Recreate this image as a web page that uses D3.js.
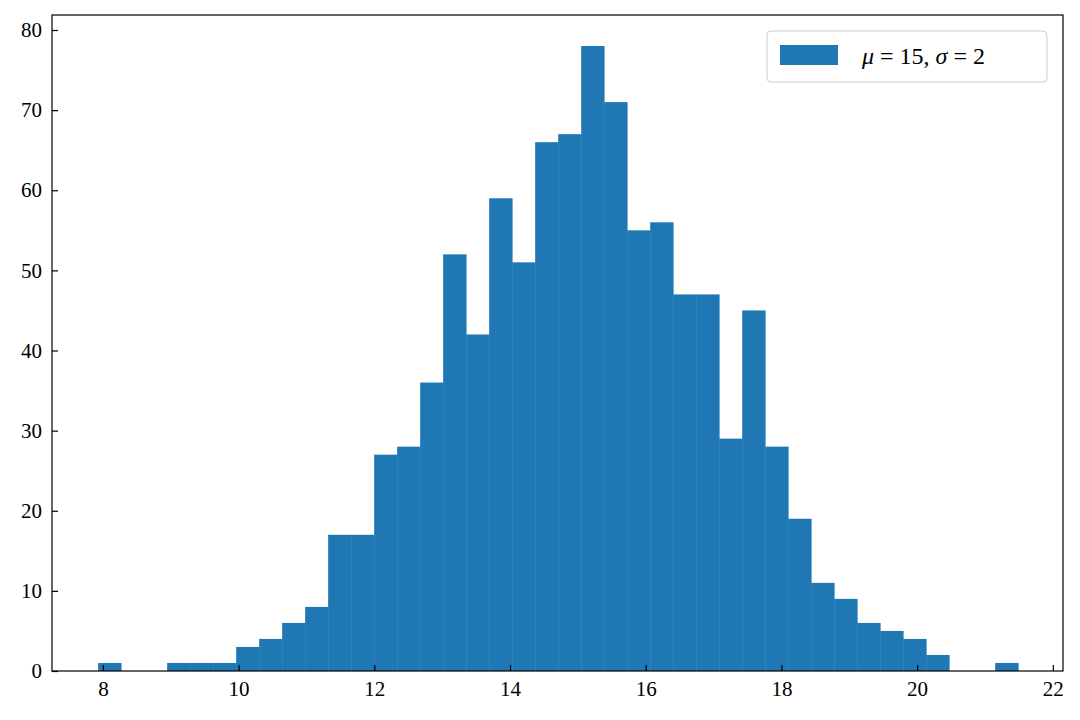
<!DOCTYPE html>
<html><head><meta charset="utf-8">
<script src="https://cdn.jsdelivr.net/npm/d3@7"></script>
<style>body{margin:0;background:#fff}</style></head>
<body><svg id="c" width="1080" height="720"></svg>
<script>
const binStart = 7.93;
const binWidth = 0.339;
const counts = [1,0,0,1,1,1,3,4,6,8,17,17,27,28,36,52,42,59,51,66,67,78,71,55,56,47,47,29,45,28,19,11,9,6,5,4,2,0,0,1];
const xTicks = [8,10,12,14,16,18,20,22];
const yTicks = [0,10,20,30,40,50,60,70,80];

const svg = d3.select("#c");
const L=52,R=1063,T=15,B=671;
const x = d3.scaleLinear().domain([7.25,22.15]).range([L,R]);
const y = d3.scaleLinear().domain([0,80.0]).range([B,30]);
const font = "'Liberation Serif','DejaVu Serif',serif";
const color = "#1f77b4";

svg.append("g").selectAll("rect").data(counts).join("rect")
  .attr("x",(d,i)=>x(binStart+i*binWidth))
  .attr("width",(d,i)=>x(binStart+(i+1)*binWidth)-x(binStart+i*binWidth)+0.4)
  .attr("y",d=>y(d)).attr("height",d=>B-y(d)).attr("fill",color);

const gx = svg.append("g").attr("transform",`translate(0,${B})`)
  .call(d3.axisBottom(x).tickValues(xTicks).tickSize(-6).tickPadding(10));
const gy = svg.append("g").attr("transform",`translate(${L},0)`)
  .call(d3.axisLeft(y).tickValues(yTicks).tickSize(-6).tickPadding(10));
[gx,gy].forEach(g=>{g.select(".domain").remove();
  g.selectAll("text").attr("font-family",font).attr("font-size",21).attr("fill","#000");
  g.selectAll("line").attr("stroke","#000").attr("stroke-width",1.2);});
svg.append("rect").attr("x",L).attr("y",T).attr("width",R-L).attr("height",B-T)
  .attr("fill","none").attr("stroke","#000").attr("stroke-width",1.2);

const lg = svg.append("g");
lg.append("rect").attr("x",767).attr("y",31).attr("width",280).attr("height",51).attr("rx",4)
  .attr("fill","#fff").attr("stroke","#ccc");
lg.append("rect").attr("x",780).attr("y",45).attr("width",58).attr("height",20).attr("fill",color);
const t = lg.append("text").attr("x",862).attr("y",64).attr("font-family",font).attr("font-size",24);
t.append("tspan").attr("font-style","italic").text("μ");
t.append("tspan").text(" = 15, ");
t.append("tspan").attr("font-style","italic").text("σ");
t.append("tspan").text(" = 2");
</script></body></html>
